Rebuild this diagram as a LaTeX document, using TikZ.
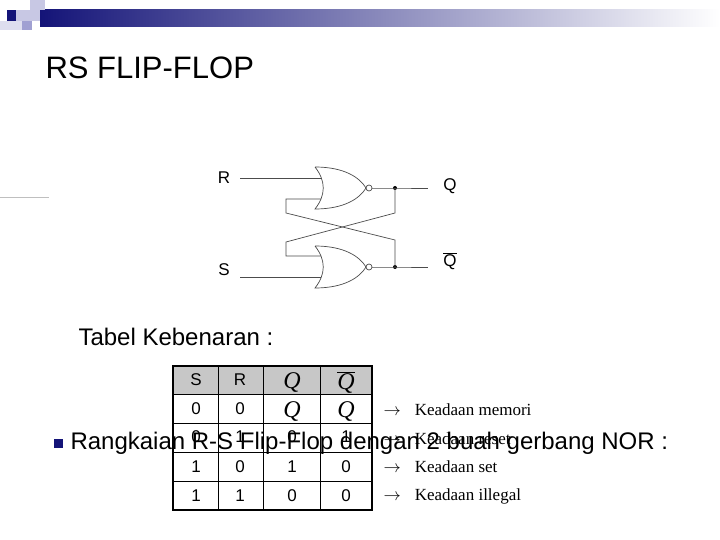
\documentclass[tikz,border=0pt]{standalone}
\usepackage{fontspec}
\setmainfont{Liberation Sans}
\newfontfamily\serifx{Liberation Serif}
\begin{document}
\begin{tikzpicture}[x=1pt,y=-1pt,
  wire/.style={draw=black!70,line width=0.7pt},
  gate/.style={draw=black!70,line width=0.7pt,fill=white},
  cell/.style={font=\fontsize{17}{19}\selectfont},
  qcell/.style={font=\serifx\itshape\fontsize{24}{26}\selectfont},
  note/.style={anchor=west,font=\serifx\fontsize{17}{19}\selectfont},
  lbl/.style={font=\fontsize{17}{19}\selectfont}]
\useasboundingbox[fill=white] (0,0) rectangle (720,540);
% header decoration
\definecolor{navy}{RGB}{20,20,120}
\definecolor{lav}{RGB}{200,200,228}
\definecolor{lav2}{RGB}{160,160,210}
\shade[left color=navy,right color=white] (40,10) rectangle (720,27);
\fill[lav] (30,0) rectangle (45,10);
\fill[lav] (16,10) rectangle (40,21);
\fill[lav2] (22,21) rectangle (32,30);
\fill[lav!60] (0,21) rectangle (22,30);
\fill[navy] (7,10) rectangle (16,21);
\draw[black!25,line width=0.8pt] (0,197) -- (49,197);
\node[anchor=west,font=\fontsize{31}{34}\selectfont] (title) at (42,68) {RS FLIP-FLOP};
% gates
\foreach \n/\c in {up/188,lo/267}{
  \path[gate] (315,\c-21) .. controls (345,\c-21) and (360,\c-10) .. (366,\c)
     .. controls (360,\c+10) and (345,\c+21) .. (315,\c+21)
     .. controls (326,\c+7) and (326,\c-7) .. (315,\c-21);
  \node[circle,draw=black!70,line width=0.7pt,inner sep=0pt,minimum size=6pt] (b\n) at (369,\c) {};
  \coordinate (d\n) at (395,\c);
  \fill (d\n) circle (2pt);
}
\node[lbl] (R) at (224,178) {R};
\node[lbl] (S) at (224,270) {S};
\node[lbl] (Q) at (450,186) {Q};
\node[lbl] (Qb) at (450,261) {$\overline{\mbox{Q}}$};
\coordinate (rend) at (321,178);
\coordinate (send) at (321,277);
\draw[wire] (240,178) -- (rend);
\draw[wire] (240,277) -- (send);
\draw[wire] (bup) -- (dup) -- (428,188);
\draw[wire] (blo) -- (dlo) -- (428,267);
\draw[wire] (321,199) -- (286,199) -- (286,213) -- (395,240) -- (dlo);
\draw[wire] (dup) -- (395,213) -- (286,242) -- (286,256) -- (321,256);
% labels
\node[anchor=west,font=\fontsize{24}{27}\selectfont] (tk) at (75,337) {Tabel Kebenaran :};
% table
\fill[black!22] (173,366) rectangle (372,394);
\foreach \y in {366,394,423,452,481,510}{\draw[line width=0.6pt] (173,\y) -- (372,\y);}
\foreach \x in {173,218,263,320,372}{\draw[line width=0.6pt] (\x,366) -- (\x,510);}
\draw[line width=1.6pt] (173,366) rectangle (372,510);
\node[cell] at (196,380) {S};
\node[cell] at (240,380) {R};
\node[qcell] at (292,382) {Q};
\node[qcell] at (346,382) {$\overline{\mbox{Q}}$};
\node[cell] at (196,409) {0};\node[cell] at (240,409) {0};
\node[qcell] at (292,411) {Q};
\node[qcell] at (346,411) {Q};
\node[cell] at (196,437) {0};\node[cell] at (240,437) {1};\node[cell] at (292,437) {0};\node[cell] at (346,437) {1};
\node[cell] at (196,467) {1};\node[cell] at (240,467) {0};\node[cell] at (292,467) {1};\node[cell] at (346,467) {0};
\node[cell] at (196,496) {1};\node[cell] at (240,496) {1};\node[cell] at (292,496) {0};\node[cell] at (346,496) {0};
\node[note] (n1) at (380,410) {$\rightarrow$\hspace{14pt}Keadaan memori};
\node[note] (n2) at (380,439) {$\rightarrow$\hspace{14pt}Keadaan reset};
\node[note] (n3) at (380,467) {$\rightarrow$\hspace{14pt}Keadaan set};
\node[note] (n4) at (380,496) {$\rightarrow$\hspace{14pt}Keadaan illegal};
\fill[navy] (54,439) rectangle (63,448);
\node[anchor=west,font=\fontsize{24}{27}\selectfont] (main) at (67,443) {Rangkaian R-S Flip-Flop dengan 2 buah gerbang NOR :};
\end{tikzpicture}
\end{document}
